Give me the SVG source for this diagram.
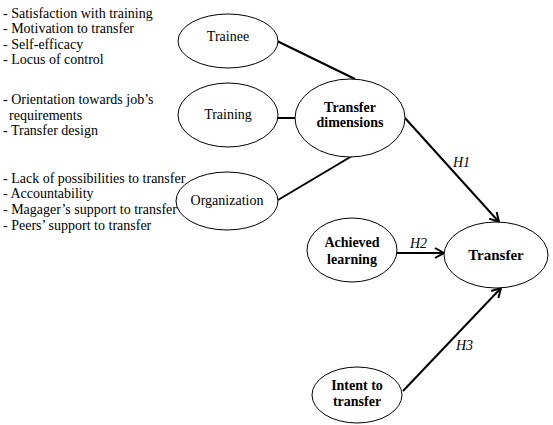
<svg xmlns="http://www.w3.org/2000/svg" width="553" height="425" viewBox="0 0 553 425">
<defs>
<marker id="a" markerWidth="12" markerHeight="12" refX="10" refY="6" orient="auto" markerUnits="userSpaceOnUse">
<polyline points="1,1 10,6 1,11" fill="none" stroke="#000" stroke-width="2"/>
</marker>
</defs>
<rect width="553" height="425" fill="#fff"/>
<g id="lists" font-family="Liberation Serif" font-size="14">
<text x="3" y="18">- Satisfaction with training</text>
<text x="3" y="33">- Motivation to transfer</text>
<text x="3" y="49">- Self-efficacy</text>
<text x="3" y="64">- Locus of control</text>
<text x="3" y="104">- Orientation towards job’s</text>
<text x="9" y="120">requirements</text>
<text x="3" y="135">- Transfer design</text>
<text x="3" y="183">- Lack of possibilities to transfer</text>
<text x="3" y="198">- Accountability</text>
<text x="3" y="214">- Magager’s support to transfer</text>
<text x="3" y="230">- Peers’ support to transfer</text>
</g>
<g id="connectors" stroke="#000" stroke-width="2" fill="none">
<line x1="277" y1="41" x2="355" y2="79"/>
<line x1="278" y1="118" x2="295" y2="118"/>
<line x1="278" y1="200" x2="352" y2="156"/>
<line x1="405" y1="118" x2="499" y2="222" marker-end="url(#a)"/>
<line x1="397" y1="253" x2="444" y2="253" marker-end="url(#a)"/>
<line x1="403" y1="391" x2="501" y2="288" marker-end="url(#a)"/>
</g>
<g id="edge-labels" font-family="Liberation Serif" font-size="14" font-style="italic">
<text x="453" y="167">H1</text>
<text x="410" y="248">H2</text>
<text x="456" y="350">H3</text>
</g>
<g id="trainee"><ellipse fill="#fff" stroke="#000" cx="228" cy="41" rx="50" ry="27"/><text font-family="Liberation Serif" font-size="14" text-anchor="middle" x="228" y="41">Trainee</text></g>
<g id="training"><ellipse fill="#fff" stroke="#000" cx="228" cy="115" rx="50" ry="32"/><text font-family="Liberation Serif" font-size="14" text-anchor="middle" x="228" y="119">Training</text></g>
<g id="organization"><ellipse fill="#fff" stroke="#000" cx="227" cy="201" rx="51" ry="29"/><text font-family="Liberation Serif" font-size="14" text-anchor="middle" x="227" y="205">Organization</text></g>
<g id="transfer-dimensions" font-family="Liberation Serif" font-size="14" font-weight="bold" text-anchor="middle"><ellipse fill="#fff" stroke="#000" cx="350" cy="118" rx="55" ry="39"/><text x="350" y="112">Transfer</text><text x="350" y="127">dimensions</text></g>
<g id="achieved-learning" font-family="Liberation Serif" font-size="14" font-weight="bold" text-anchor="middle"><ellipse fill="#fff" stroke="#000" cx="352" cy="250" rx="45" ry="32"/><text x="352" y="247">Achieved</text><text x="352" y="264">learning</text></g>
<g id="transfer" font-family="Liberation Serif" font-size="15" font-weight="bold" text-anchor="middle"><ellipse fill="#fff" stroke="#000" cx="496" cy="255" rx="52" ry="33"/><text x="496" y="260">Transfer</text></g>
<g id="intent" font-family="Liberation Serif" font-size="14" font-weight="bold" text-anchor="middle"><ellipse fill="#fff" stroke="#000" cx="357" cy="395" rx="45" ry="28"/><text x="357" y="390">Intent to</text><text x="357" y="406">transfer</text></g>
</svg>
